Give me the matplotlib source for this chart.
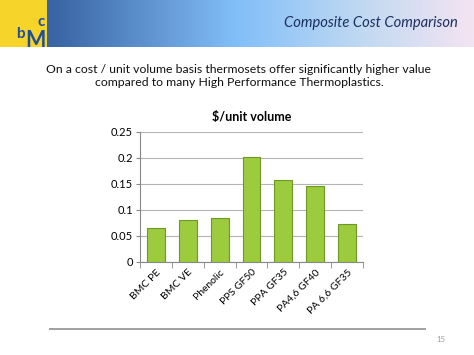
import numpy as np
import matplotlib.pyplot as plt
from matplotlib.colors import LinearSegmentedColormap

plt.rcParams['font.family'] = ['Lato', 'DejaVu Sans']

# data
materials = ['BMC PE', 'BMC VE', 'Phenolic', 'PPS GF50', 'PPA GF35', 'PA4,6 GF40', 'PA 6,6 GF35']
cost_per_volume = [0.066, 0.081, 0.084, 0.202, 0.157, 0.147, 0.073]
y_ticks = [0, 0.05, 0.1, 0.15, 0.2, 0.25]
y_tick_labels = ['0', '0.05', '0.1', '0.15', '0.2', '0.25']

W, H = 474, 355
fig = plt.figure(figsize=(W / 100, H / 100), dpi=100)
fig.patch.set_facecolor('white')

# header banner with gradient
ban = fig.add_axes([0, 1 - 47 / H, 1, 47 / H])
cmap = LinearSegmentedColormap.from_list(
    'ban', [(0, '#2f5a98'), (0.12, '#3b66a6'), (0.5, '#82bff8'), (0.78, '#c4daf2'), (1, '#f4e4f2')])
ban.imshow(np.linspace(0, 1, 256)[None, :], aspect='auto', cmap=cmap, extent=[0, 1, 0, 1])
ban.set_xlim(0, 1)
ban.set_ylim(0, 1)
ban.axis('off')

# logo
logo = fig.add_axes([0, 1 - 47 / H, 47 / W, 47 / H])
logo.set_xlim(0, 47)
logo.set_ylim(47, 0)
logo.add_patch(plt.Rectangle((0, 0), 46, 46, color='#f7d42a'))
logo.text(20.5, 38, 'b', fontsize=11, fontweight='bold', color='#1f4e9a', ha='center', va='baseline',
          clip_on=False)
logo.text(35.5, 47, 'M', fontsize=15.5, fontweight='bold', color='#1f4e9a', ha='center', va='baseline',
          clip_on=False)
logo.text(41.5, 26, 'c', fontsize=11, fontweight='bold', color='#1f4e9a', ha='center', va='baseline',
          clip_on=False)
logo.axis('off')

fig.text(458 / W, 1 - 23 / H, 'Composite Cost Comparison', fontsize=10.6, style='italic',
         color='#1c2f5e', ha='right', va='center')

fig.text(239 / W, 1 - 69.5 / H,
         'On a cost / unit volume basis thermosets offer significantly higher value',
         fontsize=8.8, ha='center', va='center', color='#111111')
fig.text(239 / W, 1 - 83 / H,
         'compared to many High Performance Thermoplastics.',
         fontsize=8.8, ha='center', va='center', color='#111111')

# chart
ax = fig.add_axes([140 / W, 1 - 262 / H, 223 / W, 130 / H])
x = np.arange(len(materials))
ax.bar(x, cost_per_volume, width=0.56, color='#9dcb3e', edgecolor='#6e9628', linewidth=0.8, zorder=3)
ax.set_xlim(-0.5, len(materials) - 0.5)
ax.set_ylim(0, 0.25)
ax.set_yticks(y_ticks)
ax.set_yticklabels(y_tick_labels, fontsize=8)
ax.yaxis.grid(True, color='#b4b4b4', linewidth=0.8, zorder=0)
ax.set_xticks(x)
ax.set_xticklabels(materials, rotation=45, ha='right', rotation_mode='anchor', fontsize=7.5)
ax.tick_params(axis='x', length=0, pad=4)
ax.set_xticks(np.arange(-0.5, len(materials)), minor=True)
ax.tick_params(axis='x', which='minor', length=4, color='#888888')
ax.tick_params(axis='y', length=3, color='#888888', pad=2)
for s in ['top', 'right']:
    ax.spines[s].set_visible(False)
for s in ['left', 'bottom']:
    ax.spines[s].set_color('#888888')
ax.set_title('$/unit volume', fontsize=9, fontweight='bold', pad=8)

# footer
fig.add_artist(plt.Line2D([50 / W, 425 / W], [1 - 329 / H, 1 - 329 / H], color='#a0a0a0', linewidth=1.4))
fig.text(441 / W, 1 - 339 / H, '15', fontsize=5.5, color='#999999', ha='center', va='center')

fig.savefig('out.png', dpi=100)
